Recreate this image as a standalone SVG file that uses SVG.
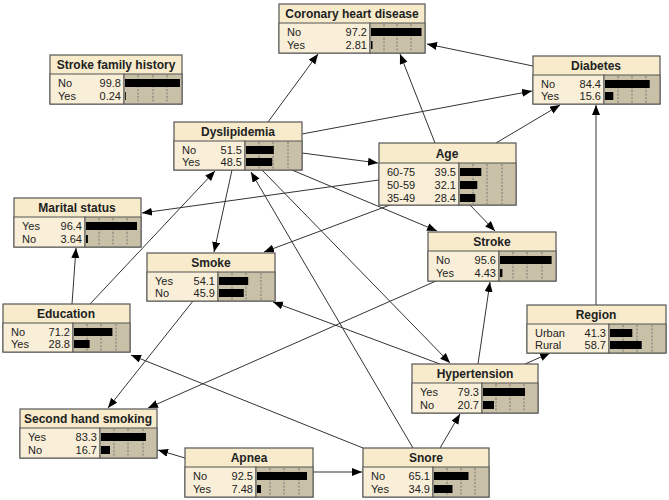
<svg xmlns="http://www.w3.org/2000/svg" width="669" height="500" viewBox="0 0 669 500">
<defs>
<marker id="ah" markerUnits="userSpaceOnUse" markerWidth="11" markerHeight="9" refX="10" refY="4" orient="auto"><path d="M0,0 L10,4 L0,8 z" fill="#000"/></marker>
<style>
.box{fill:#f7ebcc;stroke:#555;stroke-width:1.2}
.body{fill:#f9efd8;stroke:#555;stroke-width:1}
.bar{fill:#c9c0a8;stroke:#555;stroke-width:1}
.dl{stroke:#666;stroke-width:0.8;stroke-dasharray:2,1.5}
.b{fill:#000}
.t{font-family:"Liberation Sans",Arial,sans-serif;font-size:12px;font-weight:bold;fill:#222;text-anchor:middle}
.r{font-family:"Liberation Sans",Arial,sans-serif;font-size:11px;fill:#222}
.v{text-anchor:end}
.e{stroke:#333;stroke-width:1;fill:none;marker-end:url(#ah)}
</style>
</defs>
<rect width="669" height="500" fill="#fff"/>
<g id="connectors">
<line class="e" x1="268" y1="122" x2="318" y2="54"/>
<line class="e" x1="435" y1="143" x2="400" y2="54"/>
<line class="e" x1="533" y1="66" x2="427" y2="44"/>
<line class="e" x1="302" y1="134" x2="532" y2="91"/>
<line class="e" x1="496" y1="143" x2="560" y2="105"/>
<line class="e" x1="596" y1="305" x2="596" y2="105"/>
<line class="e" x1="302" y1="153" x2="378" y2="163"/>
<line class="e" x1="379" y1="180" x2="142" y2="213"/>
<line class="e" x1="72" y1="304" x2="76" y2="248"/>
<line class="e" x1="90" y1="304" x2="215" y2="171"/>
<line class="e" x1="232" y1="170" x2="214" y2="252"/>
<line class="e" x1="390" y1="205" x2="264" y2="252"/>
<line class="e" x1="292" y1="170" x2="437" y2="231"/>
<line class="e" x1="470" y1="205" x2="495" y2="231"/>
<line class="e" x1="262" y1="170" x2="450" y2="363"/>
<line class="e" x1="413" y1="448" x2="251" y2="172"/>
<line class="e" x1="440" y1="364" x2="273" y2="302"/>
<line class="e" x1="478" y1="364" x2="490" y2="282"/>
<line class="e" x1="525" y1="364" x2="550" y2="353"/>
<line class="e" x1="193" y1="301" x2="108" y2="408"/>
<line class="e" x1="436" y1="281" x2="148" y2="408"/>
<line class="e" x1="363" y1="448" x2="131" y2="355"/>
<line class="e" x1="185" y1="458" x2="158" y2="450"/>
<line class="e" x1="313" y1="472" x2="362" y2="472"/>
<line class="e" x1="440" y1="448" x2="460" y2="414"/>
</g>

<g id="coronary">
<rect class="box" x="279" y="4" width="146" height="49"/>
<rect class="body" x="279" y="23" width="91" height="30"/>
<rect class="bar" x="370" y="23" width="55" height="30"/>
<line class="dl" x1="384" y1="24" x2="384" y2="52"/><line class="dl" x1="397" y1="24" x2="397" y2="52"/><line class="dl" x1="411" y1="24" x2="411" y2="52"/>
<rect class="b" x="371" y="28" width="50.5" height="8"/><rect class="b" x="371" y="41" width="1.5" height="8"/>
<text class="t" x="352" y="18">Coronary heart disease</text>
<text class="r" x="287" y="36">No</text><text class="r v" x="367" y="36">97.2</text>
<text class="r" x="287" y="49">Yes</text><text class="r v" x="367" y="49">2.81</text>
</g>

<g id="strokefamily">
<rect class="box" x="50" y="55" width="132" height="49"/>
<rect class="body" x="50" y="74" width="74" height="30"/>
<rect class="bar" x="124" y="74" width="58" height="30"/>
<line class="dl" x1="138" y1="75" x2="138" y2="103"/><line class="dl" x1="153" y1="75" x2="153" y2="103"/><line class="dl" x1="167" y1="75" x2="167" y2="103"/>
<rect class="b" x="125" y="79" width="55" height="8"/><rect class="b" x="125" y="92" width="0.8" height="8"/>
<text class="t" x="116" y="69">Stroke family history</text>
<text class="r" x="58" y="87">No</text><text class="r v" x="121" y="87">99.8</text>
<text class="r" x="58" y="100">Yes</text><text class="r v" x="121" y="100">0.24</text>
</g>

<g id="diabetes">
<rect class="box" x="533" y="56" width="127" height="48"/>
<rect class="body" x="533" y="75" width="71" height="29"/>
<rect class="bar" x="604" y="75" width="56" height="29"/>
<line class="dl" x1="618" y1="76" x2="618" y2="103"/><line class="dl" x1="632" y1="76" x2="632" y2="103"/><line class="dl" x1="646" y1="76" x2="646" y2="103"/>
<rect class="b" x="605" y="80" width="44.7" height="8"/><rect class="b" x="605" y="92" width="8.3" height="8"/>
<text class="t" x="596" y="70">Diabetes</text>
<text class="r" x="541" y="88">No</text><text class="r v" x="601" y="88">84.4</text>
<text class="r" x="541" y="100">Yes</text><text class="r v" x="601" y="100">15.6</text>
</g>

<g id="dyslipidemia">
<rect class="box" x="174" y="122" width="128" height="48"/>
<rect class="body" x="174" y="141" width="71" height="29"/>
<rect class="bar" x="245" y="141" width="57" height="29"/>
<line class="dl" x1="259" y1="142" x2="259" y2="169"/><line class="dl" x1="273" y1="142" x2="273" y2="169"/><line class="dl" x1="288" y1="142" x2="288" y2="169"/>
<rect class="b" x="246" y="146" width="27.8" height="8"/><rect class="b" x="246" y="158" width="26.2" height="8"/>
<text class="t" x="238" y="136">Dyslipidemia</text>
<text class="r" x="182" y="154">No</text><text class="r v" x="242" y="154">51.5</text>
<text class="r" x="182" y="166">Yes</text><text class="r v" x="242" y="166">48.5</text>
</g>

<g id="age">
<rect class="box" x="379" y="143" width="137" height="62"/>
<rect class="body" x="379" y="163" width="80" height="42"/>
<rect class="bar" x="459" y="163" width="57" height="42"/>
<line class="dl" x1="473" y1="164" x2="473" y2="204"/><line class="dl" x1="487" y1="164" x2="487" y2="204"/><line class="dl" x1="502" y1="164" x2="502" y2="204"/>
<rect class="b" x="460" y="168" width="21.3" height="8"/><rect class="b" x="460" y="181" width="17.3" height="8"/><rect class="b" x="460" y="194" width="15.3" height="8"/>
<text class="t" x="447" y="158">Age</text>
<text class="r" x="387" y="176">60-75</text><text class="r v" x="456" y="176">39.5</text>
<text class="r" x="387" y="189">50-59</text><text class="r v" x="456" y="189">32.1</text>
<text class="r" x="387" y="202">35-49</text><text class="r v" x="456" y="202">28.4</text>
</g>

<g id="marital">
<rect class="box" x="14" y="198" width="127" height="49"/>
<rect class="body" x="14" y="217" width="71" height="30"/>
<rect class="bar" x="85" y="217" width="56" height="30"/>
<line class="dl" x1="99" y1="218" x2="99" y2="246"/><line class="dl" x1="113" y1="218" x2="113" y2="246"/><line class="dl" x1="127" y1="218" x2="127" y2="246"/>
<rect class="b" x="86" y="222" width="51" height="8"/><rect class="b" x="86" y="235" width="1.9" height="8"/>
<text class="t" x="77" y="212">Marital status</text>
<text class="r" x="22" y="230">Yes</text><text class="r v" x="82" y="230">96.4</text>
<text class="r" x="22" y="243">No</text><text class="r v" x="82" y="243">3.64</text>
</g>

<g id="stroke">
<rect class="box" x="428" y="232" width="128" height="49"/>
<rect class="body" x="428" y="251" width="71" height="30"/>
<rect class="bar" x="499" y="251" width="57" height="30"/>
<line class="dl" x1="513" y1="252" x2="513" y2="280"/><line class="dl" x1="527" y1="252" x2="527" y2="280"/><line class="dl" x1="542" y1="252" x2="542" y2="280"/>
<rect class="b" x="500" y="256" width="51.6" height="8"/><rect class="b" x="500" y="269" width="2.4" height="8"/>
<text class="t" x="492" y="246">Stroke</text>
<text class="r" x="436" y="264">No</text><text class="r v" x="496" y="264">95.6</text>
<text class="r" x="436" y="277">Yes</text><text class="r v" x="496" y="277">4.43</text>
</g>

<g id="smoke">
<rect class="box" x="147" y="253" width="128" height="48"/>
<rect class="body" x="147" y="272" width="71" height="29"/>
<rect class="bar" x="218" y="272" width="57" height="29"/>
<line class="dl" x1="232" y1="273" x2="232" y2="300"/><line class="dl" x1="246" y1="273" x2="246" y2="300"/><line class="dl" x1="261" y1="273" x2="261" y2="300"/>
<rect class="b" x="219" y="277" width="29.2" height="8"/><rect class="b" x="219" y="289" width="24.8" height="8"/>
<text class="t" x="211" y="267">Smoke</text>
<text class="r" x="155" y="285">Yes</text><text class="r v" x="215" y="285">54.1</text>
<text class="r" x="155" y="297">No</text><text class="r v" x="215" y="297">45.9</text>
</g>

<g id="education">
<rect class="box" x="3" y="304" width="127" height="48"/>
<rect class="body" x="3" y="323" width="70" height="29"/>
<rect class="bar" x="73" y="323" width="57" height="29"/>
<line class="dl" x1="87" y1="324" x2="87" y2="351"/><line class="dl" x1="101" y1="324" x2="101" y2="351"/><line class="dl" x1="116" y1="324" x2="116" y2="351"/>
<rect class="b" x="74" y="328" width="38.4" height="8"/><rect class="b" x="74" y="340" width="15.6" height="8"/>
<text class="t" x="66" y="318">Education</text>
<text class="r" x="11" y="336">No</text><text class="r v" x="70" y="336">71.2</text>
<text class="r" x="11" y="348">Yes</text><text class="r v" x="70" y="348">28.8</text>
</g>

<g id="region">
<rect class="box" x="527" y="305" width="139" height="48"/>
<rect class="body" x="527" y="324" width="82" height="29"/>
<rect class="bar" x="609" y="324" width="57" height="29"/>
<line class="dl" x1="623" y1="325" x2="623" y2="352"/><line class="dl" x1="637" y1="325" x2="637" y2="352"/><line class="dl" x1="652" y1="325" x2="652" y2="352"/>
<rect class="b" x="610" y="329" width="22.3" height="8"/><rect class="b" x="610" y="341" width="31.7" height="8"/>
<text class="t" x="596" y="319">Region</text>
<text class="r" x="535" y="337">Urban</text><text class="r v" x="606" y="337">41.3</text>
<text class="r" x="535" y="349">Rural</text><text class="r v" x="606" y="349">58.7</text>
</g>

<g id="hypertension">
<rect class="box" x="412" y="364" width="126" height="49"/>
<rect class="body" x="412" y="383" width="70" height="30"/>
<rect class="bar" x="482" y="383" width="56" height="30"/>
<line class="dl" x1="496" y1="384" x2="496" y2="412"/><line class="dl" x1="510" y1="384" x2="510" y2="412"/><line class="dl" x1="524" y1="384" x2="524" y2="412"/>
<rect class="b" x="483" y="388" width="42" height="8"/><rect class="b" x="483" y="401" width="11" height="8"/>
<text class="t" x="475" y="378">Hypertension</text>
<text class="r" x="420" y="396">Yes</text><text class="r v" x="479" y="396">79.3</text>
<text class="r" x="420" y="409">No</text><text class="r v" x="479" y="409">20.7</text>
</g>

<g id="secondhand">
<rect class="box" x="20" y="409" width="137" height="49"/>
<rect class="body" x="20" y="428" width="80" height="30"/>
<rect class="bar" x="100" y="428" width="57" height="30"/>
<line class="dl" x1="114" y1="429" x2="114" y2="457"/><line class="dl" x1="128" y1="429" x2="128" y2="457"/><line class="dl" x1="143" y1="429" x2="143" y2="457"/>
<rect class="b" x="101" y="433" width="45" height="8"/><rect class="b" x="101" y="446" width="9" height="8"/>
<text class="t" x="88" y="423">Second hand smoking</text>
<text class="r" x="28" y="441">Yes</text><text class="r v" x="97" y="441">83.3</text>
<text class="r" x="28" y="454">No</text><text class="r v" x="97" y="454">16.7</text>
</g>

<g id="apnea">
<rect class="box" x="185" y="448" width="128" height="49"/>
<rect class="body" x="185" y="467" width="71" height="30"/>
<rect class="bar" x="256" y="467" width="57" height="30"/>
<line class="dl" x1="270" y1="468" x2="270" y2="496"/><line class="dl" x1="284" y1="468" x2="284" y2="496"/><line class="dl" x1="299" y1="468" x2="299" y2="496"/>
<rect class="b" x="257" y="472" width="50" height="8"/><rect class="b" x="257" y="485" width="4" height="8"/>
<text class="t" x="249" y="462">Apnea</text>
<text class="r" x="193" y="480">No</text><text class="r v" x="253" y="480">92.5</text>
<text class="r" x="193" y="493">Yes</text><text class="r v" x="253" y="493">7.48</text>
</g>

<g id="snore">
<rect class="box" x="363" y="448" width="126" height="49"/>
<rect class="body" x="363" y="467" width="70" height="30"/>
<rect class="bar" x="433" y="467" width="56" height="30"/>
<line class="dl" x1="447" y1="468" x2="447" y2="496"/><line class="dl" x1="461" y1="468" x2="461" y2="496"/><line class="dl" x1="475" y1="468" x2="475" y2="496"/>
<rect class="b" x="434" y="472" width="34.5" height="8"/><rect class="b" x="434" y="485" width="18.5" height="8"/>
<text class="t" x="426" y="462">Snore</text>
<text class="r" x="371" y="480">No</text><text class="r v" x="430" y="480">65.1</text>
<text class="r" x="371" y="493">Yes</text><text class="r v" x="430" y="493">34.9</text>
</g>
</svg>
